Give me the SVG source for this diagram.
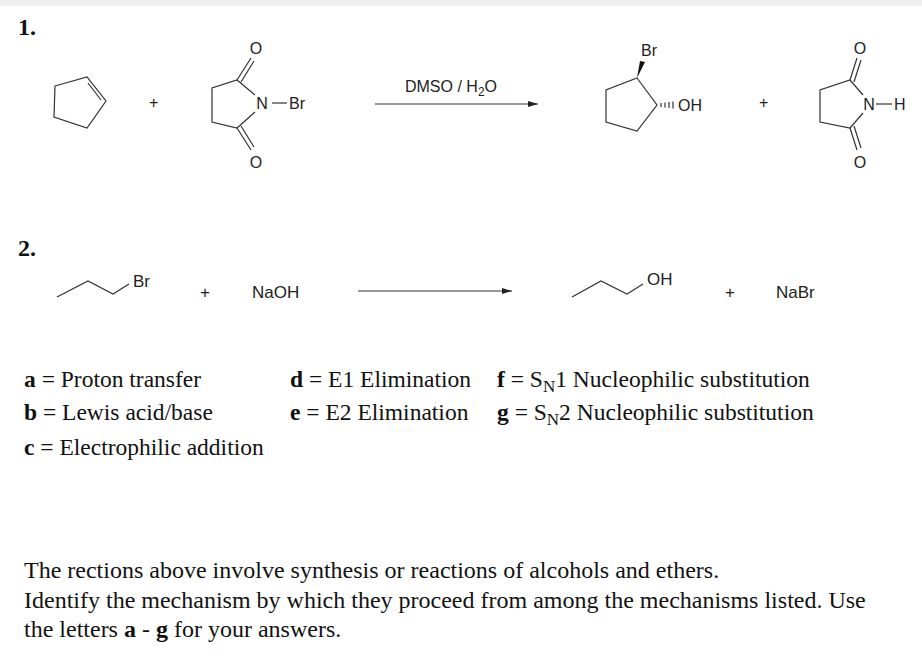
<svg xmlns="http://www.w3.org/2000/svg" width="922" height="658" viewBox="0 0 922 658">
<defs>
<marker id="ah" markerWidth="10" markerHeight="6" refX="10" refY="3" orient="auto" markerUnits="userSpaceOnUse"><path d="M0,0 L10,3 L0,6 Z" fill="#222"/></marker>
</defs>
<style>
.b{stroke:#333;stroke-width:1.2;fill:none}
.c{font-family:"Liberation Sans",Arial,sans-serif;font-size:16px;fill:#222}
.r{font-family:"Liberation Sans",Arial,sans-serif;font-size:17px;fill:#222}
.t{font-family:"Liberation Serif","Times New Roman",serif;font-size:23.5px;fill:#111}
.p{font-family:"Liberation Serif","Times New Roman",serif;font-size:24px;fill:#111}
.n{font-family:"Liberation Serif","Times New Roman",serif;font-size:24px;font-weight:bold;fill:#111}
</style>
<rect width="922" height="658" fill="#fff"/>
<rect width="922" height="6" fill="#efefef"/>
<text class="n" x="18" y="35">1.</text>
<text class="n" x="18" y="256">2.</text>
<g id="cyclopentene">
<path class="b" d="M55,86 L87,77 L106,101 L87,128 L54,117 Z"/>
<path class="b" d="M88,83 L101,100"/>
</g>
<text class="c" x="149" y="108">+</text>
<g id="nbs">
<path class="b" d="M255,95 L237,80 L212,88 L212,122 L237,128 L255,112"/>
<path class="b" d="M237,80 L251,58 M241,82 L254,61"/>
<path class="b" d="M237,128 L251,150 M241,126 L254,147"/>
<path class="b" d="M272,103 L287,103"/>
<text class="c" x="256" y="54" text-anchor="middle">O</text>
<text class="c" x="256" y="168" text-anchor="middle">O</text>
<text class="c" x="262" y="109" text-anchor="middle">N</text>
<text class="c" x="289" y="109">Br</text>
</g>
<g id="connectors">
<line class="b" x1="375" y1="104" x2="538" y2="104" marker-end="url(#ah)"/>
<line class="b" x1="358" y1="291" x2="512" y2="291" stroke="#777" stroke-width="2" marker-end="url(#ah)"/>
</g>
<text class="c" x="451" y="92" text-anchor="middle" font-size="18">DMSO / H<tspan font-size="12" dy="4">2</tspan><tspan dy="-4">O</tspan></text>
<g id="bromohydrin">
<path class="b" d="M637,78 L657,105 L637,131 L606,122 L606,90 Z"/>
<path d="M637,78 L640,61 L645,62 Z" fill="#111"/>
<path d="M661,103v4 M665,102.5v5 M669,102v6 M673,101.5v7" stroke="#333" stroke-width="1.2"/>
<text class="c" x="649" y="56" text-anchor="middle">Br</text>
<text class="c" x="678" y="111">OH</text>
</g>
<text class="c" x="759" y="108">+</text>
<g id="succinimide">
<path class="b" d="M863,95 L850,80 L820,90 L820,122 L850,128 L863,113"/>
<path class="b" d="M850,80 L857,58 M854,82 L861,60"/>
<path class="b" d="M850,128 L857,150 M854,126 L861,148"/>
<path class="b" d="M876,104 L892,104"/>
<text class="c" x="860" y="54" text-anchor="middle">O</text>
<text class="c" x="860" y="168" text-anchor="middle">O</text>
<text class="c" x="869" y="110" text-anchor="middle">N</text>
<text class="c" x="894" y="110">H</text>
</g>
<g id="bromopropane">
<path class="b" d="M57,297 L88,281 L113,294 L129,284"/>
<text class="r" x="133" y="287" font-size="15">Br</text>
</g>
<text class="r" x="200" y="298">+</text>
<text class="r" x="252" y="298">NaOH</text>
<g id="propanol">
<path class="b" d="M572,297 L601,281 L627,294 L643,284"/>
<text class="r" x="647" y="285" font-size="16">OH</text>
</g>
<text class="r" x="725" y="298">+</text>
<text class="r" x="776" y="298">NaBr</text>
<g id="legend">
<text class="t" x="24" y="387"><tspan font-weight="bold">a</tspan> = Proton transfer</text>
<text class="t" x="24" y="420"><tspan font-weight="bold">b</tspan> = Lewis acid/base</text>
<text class="t" x="24" y="455"><tspan font-weight="bold">c</tspan> = Electrophilic addition</text>
<text class="t" x="290" y="387"><tspan font-weight="bold">d</tspan> = E1 Elimination</text>
<text class="t" x="290" y="420"><tspan font-weight="bold">e</tspan> = E2 Elimination</text>
<text class="t" x="497" y="387"><tspan font-weight="bold">f</tspan> = S<tspan font-size="17" dy="5">N</tspan><tspan dy="-5">1 Nucleophilic substitution</tspan></text>
<text class="t" x="497" y="420"><tspan font-weight="bold">g</tspan> = S<tspan font-size="17" dy="5">N</tspan><tspan dy="-5">2 Nucleophilic substitution</tspan></text>
</g>
<text class="p" x="24" y="578">The rections above involve synthesis or reactions of alcohols and ethers.</text>
<text class="p" x="24" y="608">Identify the mechanism by which they proceed from among the mechanisms listed. Use</text>
<text class="p" x="24" y="637">the letters <tspan font-weight="bold">a</tspan> - <tspan font-weight="bold">g</tspan> for your answers.</text>
</svg>
